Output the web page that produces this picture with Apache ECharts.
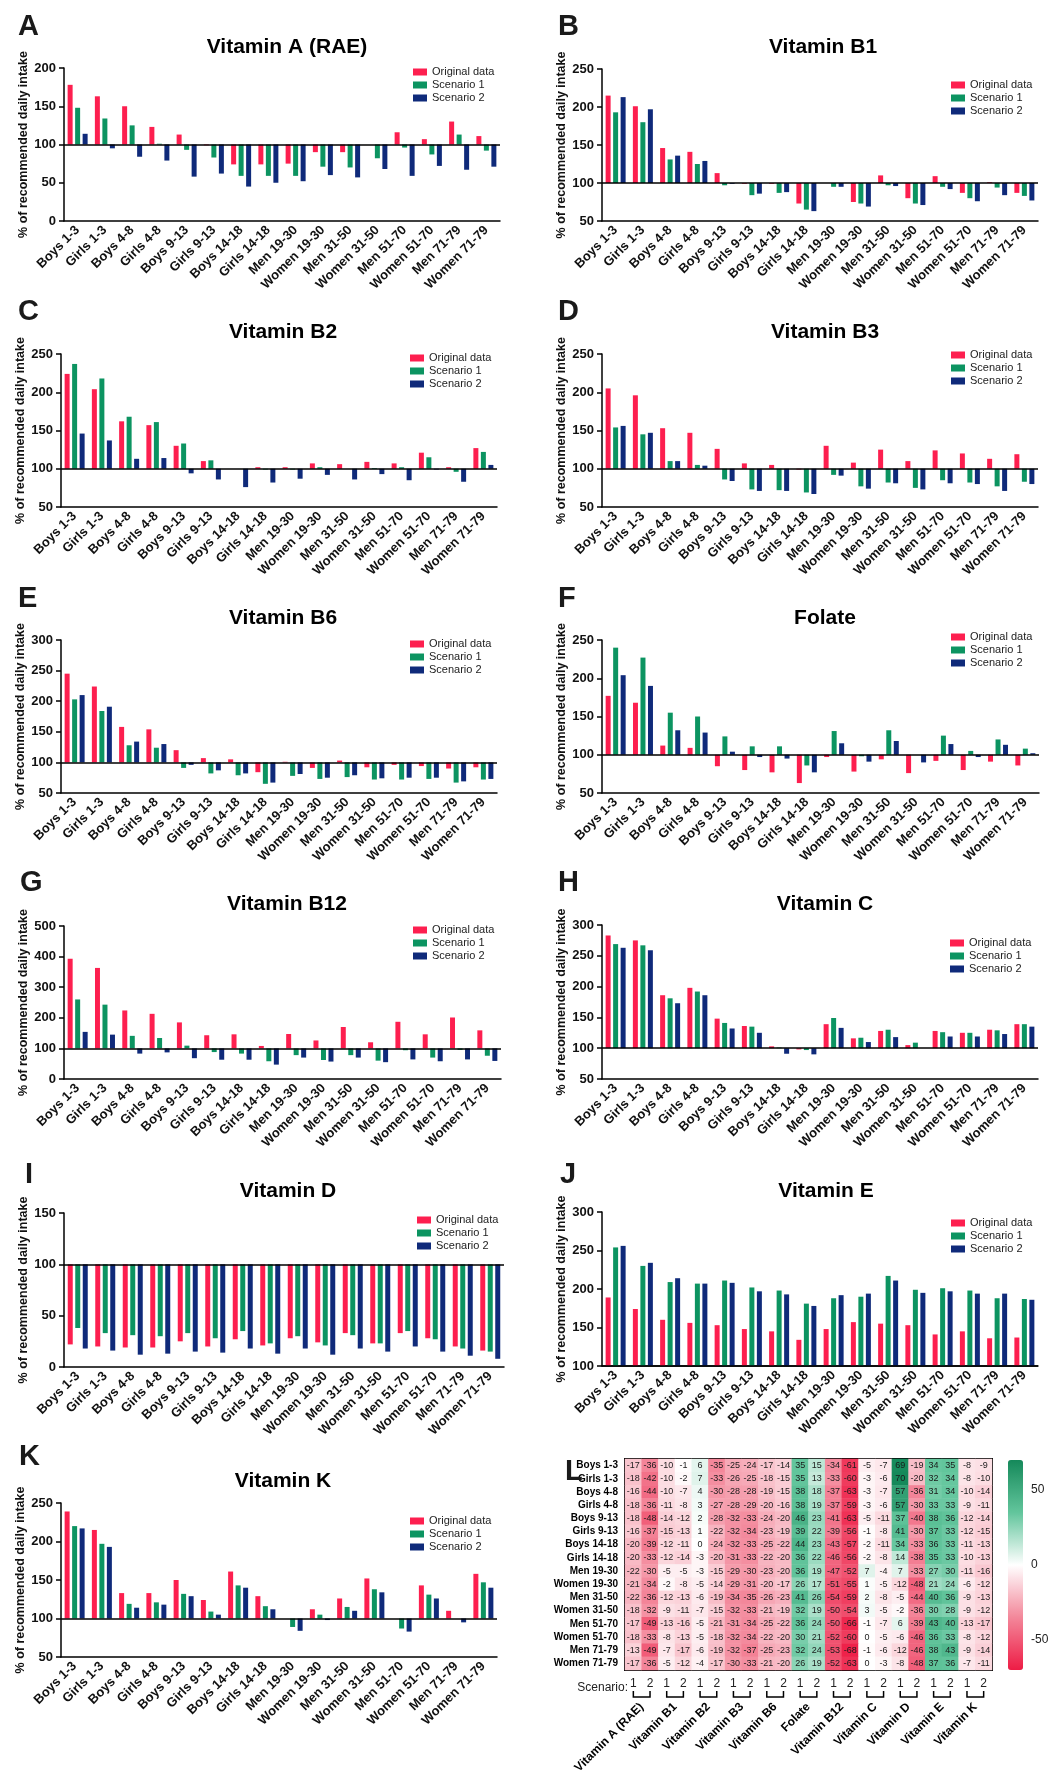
<!DOCTYPE html>
<html>
<head>
<meta charset="utf-8">
<title>Vitamin intake scenarios</title>
<script src="https://cdn.jsdelivr.net/npm/echarts@6.0.0/dist/echarts.min.js"></script>
<style>
    html, body { margin: 0; padding: 0; background: #fff; }
    #chart { width: 1056px; height: 1780px; }
</style>
</head>
<body>
<div id="chart"></div>
<script>
/**
 * Vitamin intake panels A-K (bars around the 100 % line) and heatmap L
 */

var groups = ['Boys 1-3', 'Girls 1-3', 'Boys 4-8', 'Girls 4-8', 'Boys 9-13', 'Girls 9-13',
    'Boys 14-18', 'Girls 14-18', 'Men 19-30', 'Women 19-30', 'Men 31-50', 'Women 31-50',
    'Men 51-70', 'Women 51-70', 'Men 71-79', 'Women 71-79'];
var seriesNames = ['Original data', 'Scenario 1', 'Scenario 2'];

// % of recommended daily intake
var vitAOriginal = [178, 163, 150, 123, 113, 99, 74, 74, 75, 90, 90, 100, 116, 107, 130, 111];
var vitAScen1 = [148, 134, 125, 101, 93, 83, 59, 59, 59, 71, 70, 82, 96, 87, 113, 92];
var vitAScen2 = [114, 95, 84, 79, 58, 62, 45, 50, 52, 60, 57, 68, 59, 72, 67, 71];

var vitB1Original = [215, 201, 146, 141, 113, 99, 99, 73, 100, 75, 110, 80, 109, 87, 101, 87];
var vitB1Scen1 = [193, 180, 131, 125, 97, 84, 87, 65, 95, 73, 97, 73, 95, 80, 94, 83];
var vitB1Scen2 = [213, 197, 136, 129, 99, 86, 88, 63, 95, 69, 96, 71, 92, 76, 84, 77];

var vitB2Original = [224, 204, 162, 157, 130, 110, 100, 102, 102, 107, 106, 109, 107, 121, 102, 127];
var vitB2Scen1 = [237, 218, 168, 161, 133, 111, 100, 99, 99, 102, 100, 101, 102, 115, 96, 122];
var vitB2Scen2 = [146, 137, 113, 114, 94, 86, 76, 82, 87, 92, 86, 93, 85, 99, 83, 105];

var vitB3Original = [205, 196, 153, 147, 126, 107, 105, 99, 130, 108, 125, 110, 124, 120, 113, 119];
var vitB3Scen1 = [154, 145, 110, 105, 86, 73, 72, 69, 92, 77, 82, 75, 85, 82, 77, 83];
var vitB3Scen2 = [156, 147, 110, 104, 84, 71, 71, 67, 91, 74, 81, 73, 81, 80, 71, 80];

var vitB6Original = [245, 224, 158, 154, 120, 107, 105, 84, 101, 91, 103, 92, 96, 94, 90, 92];
var vitB6Scen1 = [203, 184, 128, 124, 91, 82, 79, 65, 78, 73, 76, 72, 72, 73, 67, 72];
var vitB6Scen2 = [210, 191, 134, 130, 96, 87, 82, 67, 81, 75, 79, 74, 75, 75, 69, 73];

var folateOriginal = [177, 168, 112, 109, 85, 80, 77, 63, 97, 78, 94, 76, 92, 80, 91, 86];
var folateScen1 = [240, 227, 155, 150, 124, 111, 111, 86, 131, 98, 132, 100, 125, 105, 120, 108];
var folateScen2 = [204, 190, 132, 129, 104, 97, 95, 77, 115, 91, 118, 90, 114, 97, 113, 102];

var vitB12Original = [393, 363, 224, 213, 185, 143, 146, 108, 147, 126, 170, 120, 187, 146, 201, 159];
var vitB12Scen1 = [260, 243, 141, 134, 109, 88, 83, 58, 78, 62, 78, 60, 94, 70, 95, 76];
var vitB12Scen2 = [154, 145, 83, 87, 68, 63, 63, 47, 70, 57, 70, 55, 64, 58, 64, 59];

var vitCOriginal = [283, 275, 186, 198, 148, 136, 103, 98, 139, 116, 128, 105, 128, 125, 130, 139];
var vitCScen1 = [269, 267, 181, 192, 141, 135, 101, 97, 149, 117, 130, 109, 126, 125, 129, 139];
var vitCScen2 = [263, 259, 173, 186, 132, 125, 91, 90, 133, 110, 118, 100, 119, 119, 123, 135];

var vitDOriginal = [22, 20, 19, 19, 25, 20, 27, 21, 28, 24, 33, 23, 33, 28, 20, 16];
var vitDScen1 = [38, 33, 31, 30, 33, 28, 35, 23, 30, 21, 31, 23, 35, 27, 18, 15];
var vitDScen2 = [18, 16, 12, 13, 15, 14, 18, 13, 18, 12, 18, 15, 20, 15, 11, 8];

var vitEOriginal = [189, 174, 160, 156, 153, 148, 145, 134, 148, 157, 155, 153, 141, 145, 136, 137];
var vitEScen1 = [254, 230, 209, 207, 211, 202, 198, 181, 188, 190, 217, 199, 201, 198, 188, 187];
var vitEScen2 = [256, 234, 214, 207, 208, 197, 193, 178, 192, 194, 211, 195, 197, 194, 194, 186];

var vitKOriginal = [239, 215, 133, 133, 150, 124, 161, 129, 100, 112, 126, 152, 100, 143, 110, 158];
var vitKScen1 = [220, 197, 119, 121, 132, 109, 143, 116, 89, 105, 115, 138, 87, 131, 100, 147];
var vitKScen2 = [217, 193, 114, 118, 129, 105, 140, 112, 84, 98, 110, 134, 83, 126, 95, 140];

// Heatmap L: % change vs original, columns = vitamin x scenario (1, 2)
var heatVitamins = ['Vitamin A (RAE)', 'Vitamin B1', 'Vitamin B2', 'Vitamin B3', 'Vitamin B6',
    'Folate', 'Vitamin B12', 'Vitamin C', 'Vitamin D', 'Vitamin E', 'Vitamin K'];
var heatScenarios = ['1', '2'];
var changeBoys1to3 = [-17, -36, -10, -1, 6, -35, -25, -24, -17, -14, 35, 15, -34, -61, -5, -7, 69, -19, 34, 35, -8, -9];
var changeGirls1to3 = [-18, -42, -10, -2, 7, -33, -26, -25, -18, -15, 35, 13, -33, -60, -3, -6, 70, -20, 32, 34, -8, -10];
var changeBoys4to8 = [-16, -44, -10, -7, 4, -30, -28, -28, -19, -15, 38, 18, -37, -63, -3, -7, 57, -36, 31, 34, -10, -14];
var changeGirls4to8 = [-18, -36, -11, -8, 3, -27, -28, -29, -20, -16, 38, 19, -37, -59, -3, -6, 57, -30, 33, 33, -9, -11];
var changeBoys9to13 = [-18, -48, -14, -12, 2, -28, -32, -33, -24, -20, 46, 23, -41, -63, -5, -11, 37, -40, 38, 36, -12, -14];
var changeGirls9to13 = [-16, -37, -15, -13, 1, -22, -32, -34, -23, -19, 39, 22, -39, -56, -1, -8, 41, -30, 37, 33, -12, -15];
var changeBoys14to18 = [-20, -39, -12, -11, 0, -24, -32, -33, -25, -22, 44, 23, -43, -57, -2, -11, 34, -33, 36, 33, -11, -13];
var changeGirls14to18 = [-20, -33, -12, -14, -3, -20, -31, -33, -22, -20, 36, 22, -46, -56, -2, -8, 14, -38, 35, 33, -10, -13];
var changeMen19to30 = [-22, -30, -5, -5, -3, -15, -29, -30, -23, -20, 36, 19, -47, -52, 7, -4, 7, -33, 27, 30, -11, -16];
var changeWomen19to30 = [-21, -34, -2, -8, -5, -14, -29, -31, -20, -17, 26, 17, -51, -55, 1, -5, -12, -48, 21, 24, -6, -12];
var changeMen31to50 = [-22, -36, -12, -13, -6, -19, -34, -35, -26, -23, 41, 26, -54, -59, 2, -8, -5, -44, 40, 36, -9, -13];
var changeWomen31to50 = [-18, -32, -9, -11, -7, -15, -32, -33, -21, -19, 32, 19, -50, -54, 3, -5, -2, -36, 30, 28, -9, -12];
var changeMen51to70 = [-17, -49, -13, -16, -5, -21, -31, -34, -25, -22, 36, 24, -50, -66, -1, -7, 6, -39, 43, 40, -13, -17];
var changeWomen51to70 = [-18, -33, -8, -13, -5, -18, -32, -34, -22, -20, 30, 21, -52, -60, 0, -5, -6, -46, 36, 33, -8, -12];
var changeMen71to79 = [-13, -49, -7, -17, -6, -19, -32, -37, -25, -23, 32, 24, -53, -68, -1, -6, -12, -46, 38, 43, -9, -14];
var changeWomen71to79 = [-17, -36, -5, -12, -4, -17, -30, -33, -21, -20, 26, 19, -52, -63, 0, -3, -8, -48, 37, 36, -7, -11];
var heatRows = [changeBoys1to3, changeGirls1to3, changeBoys4to8, changeGirls4to8, changeBoys9to13,
    changeGirls9to13, changeBoys14to18, changeGirls14to18, changeMen19to30, changeWomen19to30,
    changeMen31to50, changeWomen31to50, changeMen51to70, changeWomen51to70, changeMen71to79,
    changeWomen71to79];
var colorbarTicks = [-50, 0, 50];

var barColors = ['#fd1f4f', '#0c9461', '#0f2a7a'];
var FONT = '"Liberation Sans", Arial, Helvetica, sans-serif';
var BASE = 100; // bars grow up/down from the 100 % line

// Panel layout (pixels): grid = [left, top, width, height]
var panels = [
    { letter: 'A', title: 'Vitamin A (RAE)', data: [vitAOriginal, vitAScen1, vitAScen2], grid: [64, 68, 436, 153], min: 0, max: 200, step: 50, titleAt: [282, 42], letterAt: [13, 22], legendAt: [413, 65.5], nameX: 25 },
    { letter: 'B', title: 'Vitamin B1', data: [vitB1Original, vitB1Scen1, vitB1Scen2], grid: [602, 69, 436, 152], min: 50, max: 250, step: 50, titleAt: [818, 42], letterAt: [553, 22], legendAt: [951, 78.5], nameX: 566 },
    { letter: 'C', title: 'Vitamin B2', data: [vitB2Original, vitB2Scen1, vitB2Scen2], grid: [61, 354, 436, 153], min: 50, max: 250, step: 50, titleAt: [278, 327], letterAt: [13, 307], legendAt: [410, 351.5], nameX: 25 },
    { letter: 'D', title: 'Vitamin B3', data: [vitB3Original, vitB3Scen1, vitB3Scen2], grid: [602, 354, 436, 153], min: 50, max: 250, step: 50, titleAt: [820, 327], letterAt: [553, 307], legendAt: [951, 348.5], nameX: 566 },
    { letter: 'E', title: 'Vitamin B6', data: [vitB6Original, vitB6Scen1, vitB6Scen2], grid: [61, 640, 436, 153], min: 50, max: 300, step: 50, titleAt: [278, 613], letterAt: [13, 594], legendAt: [410, 637.5], nameX: 25 },
    { letter: 'F', title: 'Folate', data: [folateOriginal, folateScen1, folateScen2], grid: [602, 640, 437, 153], min: 50, max: 250, step: 50, titleAt: [820, 613], letterAt: [553, 594], legendAt: [951, 630.5], nameX: 566 },
    { letter: 'G', title: 'Vitamin B12', data: [vitB12Original, vitB12Scen1, vitB12Scen2], grid: [64, 926, 437, 153], min: 0, max: 500, step: 100, titleAt: [282, 899], letterAt: [15, 878], legendAt: [413, 923.5], nameX: 25 },
    { letter: 'H', title: 'Vitamin C', data: [vitCOriginal, vitCScen1, vitCScen2], grid: [602, 925, 436, 154], min: 50, max: 300, step: 50, titleAt: [820, 899], letterAt: [553, 878], legendAt: [950, 936.5], nameX: 566 },
    { letter: 'I', title: 'Vitamin D', data: [vitDOriginal, vitDScen1, vitDScen2], grid: [64, 1213, 440, 154], min: 0, max: 150, step: 50, titleAt: [283, 1186], letterAt: [20, 1170], legendAt: [417, 1213.5], nameX: 25 },
    { letter: 'J', title: 'Vitamin E', data: [vitEOriginal, vitEScen1, vitEScen2], grid: [602, 1212, 436, 154], min: 100, max: 300, step: 50, titleAt: [821, 1186], letterAt: [555, 1170], legendAt: [951, 1216.5], nameX: 566 },
    { letter: 'K', title: 'Vitamin K', data: [vitKOriginal, vitKScen1, vitKScen2], grid: [61, 1503, 436, 154], min: 50, max: 250, step: 50, titleAt: [278, 1476], letterAt: [14, 1452], legendAt: [410, 1514.5], nameX: 25 }
];

var heatGrid = [625, 1459, 367, 211];
var colorbarRect = [1008, 1460, 15, 210];

function buildOption() {
    var titles = [], grids = [], xAxes = [], yAxes = [], legends = [], series = [];

    panels.forEach(function(p, i) {
        titles.push({
            text: p.letter, left: p.letterAt[0], top: p.letterAt[1],
            textVerticalAlign: 'middle',
            textStyle: { fontFamily: FONT, fontSize: 29, fontWeight: 'bold', color: '#1a1a1a' }
        });
        titles.push({
            text: p.title, left: p.titleAt[0], top: p.titleAt[1],
            textAlign: 'center', textVerticalAlign: 'middle',
            textStyle: { fontFamily: FONT, fontSize: 21, fontWeight: 'bold', color: '#000' }
        });

        grids.push({
            left: p.grid[0], top: p.grid[1], width: p.grid[2], height: p.grid[3],
            outerBoundsMode: 'none'
        });

        xAxes.push({
            type: 'category', gridIndex: i, data: groups,
            axisLine: { onZero: false, lineStyle: { color: '#000', width: 1.5 } },
            axisTick: { alignWithLabel: true, length: 5, lineStyle: { color: '#000', width: 1.5 } },
            axisLabel: {
                interval: 0, rotate: 45, margin: 7, color: '#111',
                fontFamily: FONT, fontSize: 13, fontWeight: 'bold'
            }
        });

        yAxes.push({
            type: 'value', gridIndex: i,
            min: p.min - BASE, max: p.max - BASE, interval: p.step,
            name: '% of recommended daily intake', nameLocation: 'middle',
            nameGap: p.grid[0] - p.nameX - 6,
            nameTextStyle: { fontFamily: FONT, fontSize: 12.5, fontWeight: 'bold', color: '#111' },
            axisLine: { show: true, lineStyle: { color: '#000', width: 1.5 } },
            axisTick: { show: true, length: 5, lineStyle: { color: '#000', width: 1.5 } },
            splitLine: { show: false },
            axisLabel: {
                margin: 8, color: '#111', fontFamily: FONT, fontSize: 13, fontWeight: 'bold',
                formatter: function(v) { return v + BASE; }
            }
        });

        legends.push({
            data: seriesNames, orient: 'vertical',
            left: p.legendAt[0], top: p.legendAt[1], padding: 0,
            itemWidth: 14, itemHeight: 7, itemGap: 0, icon: 'rect',
            textStyle: { fontFamily: FONT, fontSize: 11, color: '#222', lineHeight: 13 }
        });

        p.data.forEach(function(values, k) {
            var s = {
                type: 'bar', name: seriesNames[k],
                xAxisIndex: i, yAxisIndex: i,
                data: values.map(function(v) { return v - BASE; }),
                barWidth: 5, barGap: '50%',
                itemStyle: { color: barColors[k] },
                animation: false
            };
            if (k === 0) {
                s.markLine = {
                    silent: true, symbol: ['none', 'none'], animation: false,
                    label: { show: false },
                    lineStyle: { color: '#000', width: 1.5, type: 'solid' },
                    data: [{ yAxis: 0 }]
                };
            }
            series.push(s);
        });
    });

    // ---- Heatmap L ----
    var hIdx = panels.length;
    var heatColumns = [];
    heatVitamins.forEach(function(v) {
        heatScenarios.forEach(function(s) { heatColumns.push(v + '|' + s); });
    });
    var heatData = [];
    heatRows.forEach(function(row, r) {
        row.forEach(function(val, c) { heatData.push([c, r, val]); });
    });

    titles.push({
        text: 'L', left: 560, top: 1467, textVerticalAlign: 'middle',
        textStyle: { fontFamily: FONT, fontSize: 29, fontWeight: 'bold', color: '#1a1a1a' }
    });
    titles.push({
        text: 'Scenario:', left: 623, top: 1683, textAlign: 'right', textVerticalAlign: 'middle',
        textStyle: { fontFamily: FONT, fontSize: 12, fontWeight: 'normal', color: '#222' }
    });

    grids.push({
        left: heatGrid[0], top: heatGrid[1], width: heatGrid[2], height: heatGrid[3],
        show: true, borderColor: '#000', borderWidth: 2, backgroundColor: 'transparent',
        outerBoundsMode: 'none'
    });
    xAxes.push({
        type: 'category', gridIndex: hIdx, data: heatColumns, position: 'bottom',
        axisLine: { show: false },
        axisTick: { alignWithLabel: true, length: 5, lineStyle: { color: '#000', width: 1.5 } },
        axisLabel: {
            interval: 0, margin: 8, color: '#222', fontFamily: FONT, fontSize: 12,
            formatter: function(v) { return v.split('|')[1]; }
        }
    });
    // vitamin group names under the brackets
    xAxes.push({
        type: 'category', gridIndex: hIdx, data: heatVitamins, position: 'bottom', offset: 31,
        axisLine: { show: false }, axisTick: { show: false },
        axisLabel: {
            interval: 0, rotate: 45, margin: 4, color: '#000',
            fontFamily: FONT, fontSize: 12, fontWeight: 'bold'
        }
    });
    yAxes.push({
        type: 'category', gridIndex: hIdx, data: groups, inverse: true,
        axisLine: { show: false },
        axisTick: { alignWithLabel: true, length: 5, lineStyle: { color: '#000', width: 1.5 } },
        axisLabel: { margin: 7, color: '#000', fontFamily: FONT, fontSize: 10, fontWeight: 'bold' }
    });
    series.push({
        type: 'heatmap', xAxisIndex: hIdx, yAxisIndex: hIdx, data: heatData,
        label: {
            show: true, fontFamily: FONT, fontSize: 9, color: '#1a1a1a',
            formatter: function(p) { return p.value[2]; }
        },
        itemStyle: { borderWidth: 0 },
        animation: false
    });

    // colour bar ticks
    grids.push({
        left: colorbarRect[0], top: colorbarRect[1], width: colorbarRect[2], height: colorbarRect[3],
        show: false, outerBoundsMode: 'none'
    });
    xAxes.push({ type: 'value', gridIndex: hIdx + 1, show: false });
    yAxes.push({
        type: 'value', gridIndex: hIdx + 1, position: 'right', min: -70, max: 70,
        axisLine: { show: false }, splitLine: { show: false },
        axisTick: { show: true, length: 5, customValues: colorbarTicks, lineStyle: { color: '#000', width: 1.5 } },
        axisLabel: { margin: 8, customValues: colorbarTicks, color: '#222', fontFamily: FONT, fontSize: 12 }
    });

    return {
        backgroundColor: '#fff',
        animation: false,
        title: titles,
        legend: legends,
        grid: grids,
        xAxis: xAxes,
        yAxis: yAxes,
        visualMap: {
            type: 'continuous', min: -70, max: 70, seriesIndex: series.length - 1,
            calculable: false, orient: 'vertical', padding: 0,
            left: colorbarRect[0], top: colorbarRect[1],
            itemWidth: colorbarRect[2], itemHeight: colorbarRect[3],
            inRange: { color: ['#ee1c45', '#f3879a', '#ffffff', '#62c59c', '#15895a'] }
        },
        series: series
    };
}

var chart = echarts.init(document.getElementById('chart'), null, { renderer: 'canvas' });
chart.setOption(buildOption());

// brackets joining scenario 1 and 2 of each vitamin
var bracketTop = heatGrid[1] + heatGrid[3] + 21;
var bracketBottom = bracketTop + 6;
var brackets = heatVitamins.map(function(v, i) {
    var x1 = chart.convertToPixel({ xAxisIndex: panels.length }, i * 2);
    var x2 = chart.convertToPixel({ xAxisIndex: panels.length }, i * 2 + 1);
    return {
        type: 'polyline',
        shape: { points: [[x1, bracketTop], [x1, bracketBottom], [x2, bracketBottom], [x2, bracketTop]] },
        style: { stroke: '#000', lineWidth: 1.5, fill: null }
    };
});
chart.setOption({ graphic: brackets });
</script>
</body>
</html>
